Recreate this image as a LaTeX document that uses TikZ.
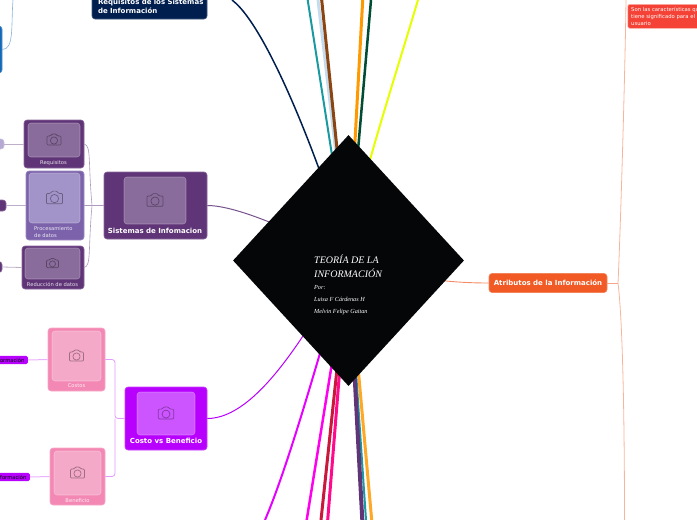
\documentclass[tikz,border=0pt]{standalone}
\usepackage{fontspec}
\setmainfont{DejaVu Sans}
\newfontfamily\rootfont{Liberation Serif}
\usetikzlibrary{shapes.geometric}
\definecolor{rootblack}{HTML}{050608}
\definecolor{sistemaspurple}{HTML}{5F3577}
\definecolor{procpurple}{HTML}{7B62AB}
\definecolor{procinner}{HTML}{A294C9}
\definecolor{costomagenta}{HTML}{B800FF}
\definecolor{costoinner}{HTML}{CC55FF}
\definecolor{cardpink}{HTML}{F488B4}
\definecolor{pinkinner}{HTML}{F5A9C9}
\definecolor{atributosorange}{HTML}{F15A24}
\definecolor{navybox}{HTML}{001F4F}
\definecolor{bluebox}{HTML}{1468B8}
\definecolor{redbox}{HTML}{F44336}
\definecolor{tealline}{HTML}{1A9AA0}
\definecolor{paleline}{HTML}{C5DCEF}
\definecolor{brownline}{HTML}{8B4513}
\definecolor{orangeline}{HTML}{FF9900}
\definecolor{greenline}{HTML}{004D33}
\definecolor{yellowline}{HTML}{E6FF00}
\definecolor{thinline}{HTML}{E600FF}
\definecolor{magentaline}{HTML}{FF00EE}
\definecolor{crimsonline}{HTML}{C8193C}
\definecolor{pinkline}{HTML}{FF0A8C}
\definecolor{amberline}{HTML}{FFA726}

\begin{document}
\begin{tikzpicture}[
    x=1pt,y=-1pt,
    box/.style={rounded corners=3, inner sep=0, draw=#1!75!white, fill=#1, line width=0.6},
    photo/.style={rounded corners=3, inner sep=0, draw=white, draw opacity=0.3, fill=#1, line width=0.6},
    title/.style={text=white, font=\bfseries\fontsize{7}{9}\selectfont, inner sep=0, align=left},
    small/.style={text=white, text opacity=0.85, font=\fontsize{5.2}{6.2}\selectfont, inner sep=0, align=left},
    tag/.style={rounded corners=1.5, fill=#1, anchor=east, inner ysep=2, inner xsep=3.5, text=black, font=\fontsize{5.2}{6}\selectfont},
    branch/.style={draw=#1, line width=2.5},
    camera/.pic={
      \draw[black, opacity=0.35, line width=0.7, rounded corners=1]
        (-7,-4) -- (-3.5,-4) -- (-2,-6) -- (2,-6) -- (3.5,-4) -- (7,-4) -- (7,5) -- (-7,5) -- cycle;
      \draw[black, opacity=0.35, line width=0.7] (0,0.5) circle (3.6);
    }
    ]
    \useasboundingbox (0,0) rectangle (697,520);
    \clip (0,0) rectangle (697,520);

    % branch ends at the border
    \coordinate (tealTop) at (307.7,0);
    \coordinate (paleTop) at (318,0);
    \coordinate (brownTop) at (321.7,0);
    \coordinate (orangeTop) at (362.7,0);
    \coordinate (greenTop) at (371,0);
    \coordinate (yellowTop) at (418,0);
    \coordinate (navyTop) at (232,0);
    \coordinate (thinEnd) at (265,520);
    \coordinate (magentaEnd) at (306.7,520);
    \coordinate (crimsonEnd) at (321,520);
    \coordinate (pinkEnd) at (327.7,520);
    \coordinate (purpleEnd) at (362.3,520);
    \coordinate (tealEnd) at (366,520);
    \coordinate (amberEnd) at (371.7,520);
    \coordinate (blueEnd) at (13,0);
    \coordinate (attrTop) at (626,0);
    \coordinate (attrEnd) at (624.5,520);

    \node[diamond, inner sep=0, minimum width=231, minimum height=251] (teoria) at (348.5,260.5) {};

    % long branches, under the root
    \draw[branch=tealline, line width=2] (tealTop) -- (teoria.center);
    \draw[branch=paleline, line width=3] (paleTop) -- (teoria.center);
    \draw[branch=brownline, line width=3] (brownTop) -- (teoria.center);
    \draw[branch=orangeline, line width=3] (orangeTop) -- (teoria.center);
    \draw[branch=greenline, line width=2.5] (greenTop) -- (teoria.center);
    \draw[branch=yellowline, line width=2] (yellowTop) .. controls +(-30,100) and +(0,-40) .. (teoria.center);
    \draw[branch=navybox, line width=1.5] (navyTop) .. controls +(40,30) and +(-15,-60) .. (teoria.center);
    \draw[branch=thinline, line width=2] (thinEnd) .. controls +(30,-70) and +(-15,40) .. (teoria.center);
    \draw[branch=magentaline, line width=2.5] (magentaEnd) -- (teoria.center);
    \draw[branch=crimsonline, line width=3] (crimsonEnd) -- (teoria.center);
    \draw[branch=pinkline, line width=3] (pinkEnd) -- (teoria.center);
    \draw[branch=amberline, line width=3] (amberEnd) -- (teoria.center);
    \draw[branch=tealline, line width=2] (tealEnd) -- (teoria.center);
    \draw[branch=sistemaspurple, line width=4] (purpleEnd) -- (teoria.center);

    % main boxes
    \node[box=navybox, minimum width=115, minimum height=39] (requisitosSI) at (149.5,-0.5) {};
    \node[title, anchor=center, text width=108] (requisitosSItext) at (152,6.5) {Requisitos de los Sistemas\\de Información};
    \node[box=bluebox, minimum width=22, minimum height=47] (azul) at (-9,49.5) {};
    \node[box=sistemaspurple, minimum width=103, minimum height=67] (sistemas) at (155.5,205.5) {};
    \node[photo=white!27!sistemaspurple, minimum width=62, minimum height=47] (sistemasFoto) at (155,200.5) {};
    \node[title] (sistemasText) at (155,230.5) {Sistemas de Infomacion};
    \node[box=costomagenta, minimum width=82, minimum height=63] (costo) at (166,418.5) {};
    \node[photo=costoinner, minimum width=58, minimum height=43] (costoFoto) at (166,413.5) {};
    \node[title] (costoText) at (166,441) {Costo vs Beneficio};
    \node[box=atributosorange, minimum width=118, minimum height=19] (atributos) at (548,283) {};
    \node[title] (atributosText) at (548,283) {Atributos de la Información};

    % cards
    \node[box=sistemaspurple, minimum width=60, minimum height=48] (requisitos) at (54,144) {};
    \node[photo=white!27!sistemaspurple, minimum width=52, minimum height=34] (requisitosFoto) at (54,140) {};
    \node[small] (requisitosText) at (53.5,163) {Requisitos};
    \node[box=procpurple, minimum width=58, minimum height=69] (procesamiento) at (55,205.5) {};
    \node[photo=procinner, minimum width=51, minimum height=50] (procesamientoFoto) at (54.5,198) {};
    \node[small, anchor=west] (procesamientoText) at (34,232) {Procesamiento\\de datos};
    \node[box=sistemaspurple, minimum width=62, minimum height=43] (reduccion) at (53,267.5) {};
    \node[photo=white!27!sistemaspurple, minimum width=55, minimum height=31] (reduccionFoto) at (52.5,263.5) {};
    \node[small] (reduccionText) at (52.5,284) {Reducción de datos};
    \node[box=cardpink, minimum width=57, minimum height=63] (costos) at (76.5,359.5) {};
    \node[photo=pinkinner, minimum width=49, minimum height=50] (costosFoto) at (76.5,356) {};
    \node[small] (costosText) at (76.5,386) {Costos};
    \node[box=cardpink, minimum width=55, minimum height=57] (beneficio) at (77.5,476.5) {};
    \node[photo=pinkinner, minimum width=47, minimum height=44] (beneficioFoto) at (77.5,473) {};
    \node[small] (beneficioText) at (77.5,500.5) {Beneficio};

    % tags at the left border
    \node[box=procinner!80!white, minimum width=10, minimum height=10] (tagRequisitos) at (-1,144) {};
    \node[box=sistemaspurple, minimum width=14, minimum height=11] (tagProcesamiento) at (-1,205.5) {};
    \node[box=sistemaspurple, minimum width=14, minimum height=11] (tagReduccion) at (-5,267) {};
    \node[tag=costomagenta] (tagCostos) at (28,360) {Información};
    \node[tag=costomagenta] (tagBeneficio) at (30,477) {Información};
    \node[rounded corners=2, fill=redbox, draw=redbox!40!white, line width=0.6, inner sep=0, anchor=north west, minimum width=90, minimum height=24] (caracteristicas) at (627.5,4) {};
    \node[small, anchor=north west, text opacity=1, font=\fontsize{5.3}{6.6}\selectfont] (caracteristicasText) at (631,7.5) {Son las características que\\tiene significado para el\\usuario};

    % thin connectors
    \coordinate (sistemasJoin) at (92,205.5);
    \coordinate (costoJoin) at (115,418.5);
    \coordinate (atributosJoin) at (618,283);
    \draw[draw=bluebox!50!white, line width=0.6] (azul.east) .. controls +(12,0) and +(-2,25) .. (blueEnd);
    \draw[draw=sistemaspurple!50!white, line width=0.8] (sistemas.west) -- (sistemasJoin);
    \draw[draw=sistemaspurple!50!white, line width=0.6] (requisitos.east) .. controls +(7,2) and +(-4,-45) .. (sistemasJoin);
    \draw[draw=sistemaspurple!50!white, line width=0.6] (procesamiento.east) -- (sistemasJoin);
    \draw[draw=sistemaspurple!50!white, line width=0.6] (reduccion.east) .. controls +(7,-2) and +(-4,45) .. (sistemasJoin);
    \draw[draw=costomagenta!40!white, line width=0.8, rounded corners=3] (costo.west) -- (costoJoin) |- (costos.east);
    \draw[draw=costomagenta!40!white, line width=0.8, rounded corners=3] (costoJoin) |- (beneficio.east);
    \draw[draw=atributosorange!55!white, line width=0.8] (atributos.east) -- (atributosJoin);
    \draw[draw=atributosorange!45!white, line width=0.8] (atributosJoin) .. controls +(2,-40) and +(-1,80) .. (attrTop);
    \draw[draw=atributosorange!45!white, line width=0.8] (atributosJoin) .. controls +(5,40) and +(0,-90) .. (attrEnd);
    \draw[draw=sistemaspurple!40!white, line width=0.8] (tagRequisitos.east) -- (requisitos.west);
    \draw[draw=sistemaspurple!40!white, line width=0.8] (tagProcesamiento.east) -- (procesamiento.west);
    \draw[draw=sistemaspurple!40!white, line width=0.8] (tagReduccion.east) -- (reduccion.west);
    \draw[draw=costomagenta!30!white, line width=1] (tagCostos.east) -- (costos.west);
    \draw[draw=costomagenta!30!white, line width=1] (tagBeneficio.east) -- (beneficio.west);
    \draw[draw=sistemaspurple!85!white, line width=1] (sistemas.east) .. controls +(30,0) and +(-50,-28) .. (teoria.center);
    \draw[draw=costomagenta, line width=1] (costo.east) .. controls +(50,0) and +(-40,70) .. (teoria.center);
    \draw[draw=atributosorange!70!white, line width=0.9] (atributos.west) .. controls +(-40,0) and +(60,18) .. (teoria.center);

    % root
    \node[diamond, fill=rootblack, inner sep=0, minimum width=231, minimum height=251] (teoriaFill) at (teoria.center) {};
    \node[anchor=west, text=white, inner sep=0, align=left, font=\rootfont\itshape\fontsize{6.2}{12}\selectfont] (teoriaPor) at (314,300) {Por:\\Luisa F Cárdenas H\\Melvin Felipe Gaitan};
    \node[anchor=west, text=white, inner sep=0, align=left, font=\rootfont\itshape\fontsize{10}{14}\selectfont] (teoriaTitle) at (314,266) {TEORÍA DE LA\\INFORMACIÓN};

    % cameras
    \pic[scale=1.15] at (sistemasFoto) {camera};
    \pic at (requisitosFoto) {camera};
    \pic[scale=1.15] at (procesamientoFoto) {camera};
    \pic[scale=0.85] at (reduccionFoto) {camera};
    \pic[scale=1.1] at (costoFoto) {camera};
    \pic at (costosFoto) {camera};
    \pic at (beneficioFoto) {camera};
  \end{tikzpicture}
\end{document}
